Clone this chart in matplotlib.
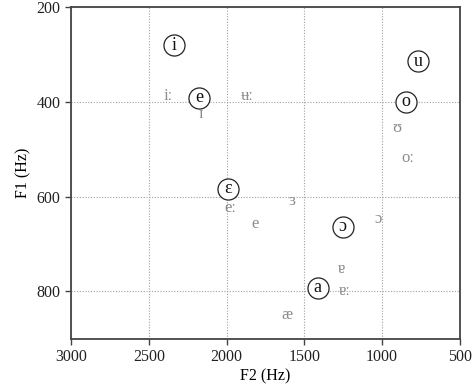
import matplotlib
matplotlib.use("Agg")
import matplotlib.pyplot as plt

plt.rcParams['font.family'] = ['Liberation Serif', 'DejaVu Serif']

# circled (reference) vowels: label, F2, F1
circ_labels = ['i', 'e', 'ɛ', 'ɔ', 'a', 'u', 'o']
circ_f2 = [2338, 2177, 1991, 1252, 1413, 770, 847]
circ_f1 = [281, 391, 583, 664, 792, 315, 400]

# gray vowels
gray_labels = ['iː', 'ɪ', 'ʉː', 'ʊ', 'oː', 'ɜ', 'eː', 'e', 'ɔ', 'ɐ', 'ɐː', 'æ']
gray_f2 = [2377, 2164, 1869, 905, 834, 1580, 1978, 1817, 1027, 1258, 1239, 1612]
gray_f1 = [387, 425, 387, 455, 519, 609, 623, 657, 647, 753, 798, 849]

xticks = [3000, 2500, 2000, 1500, 1000, 500]
yticks = [200, 400, 600, 800]

fig = plt.figure(figsize=(4.74, 3.86), dpi=100)
ax = fig.add_axes([0.150, 0.122, 0.820, 0.860])

ax.set_xlim(3000, 500)
ax.set_ylim(900, 200)
ax.set_xticks(xticks)
ax.set_yticks(yticks)
ax.grid(True, color='#a0a0a0', linestyle=(0, (1, 1.5)), linewidth=0.8)
ax.set_axisbelow(True)

for s in ax.spines.values():
    s.set_color('#444444')
    s.set_linewidth(1.3)
ax.tick_params(direction='out', length=4, width=1, color='#444444',
               labelsize=11.5, labelcolor='#222222')

ax.scatter(circ_f2, circ_f1, s=230, facecolors='white', edgecolors='#222222',
           linewidths=0.9, zorder=3)
for lab, x, y in zip(circ_labels, circ_f2, circ_f1):
    ax.text(x, y, lab, ha='center', va='center', fontsize=13,
            color='#111111', zorder=4)

for lab, x, y in zip(gray_labels, gray_f2, gray_f1):
    ax.text(x, y, lab, ha='center', va='center', fontsize=12,
            color='#8c8c8c', zorder=2)

ax.set_xlabel('F2 (Hz)', fontsize=11.5, labelpad=2)
ax.set_ylabel('F1 (Hz)', fontsize=11.5, labelpad=4)

fig.savefig('out.png', dpi=100)
